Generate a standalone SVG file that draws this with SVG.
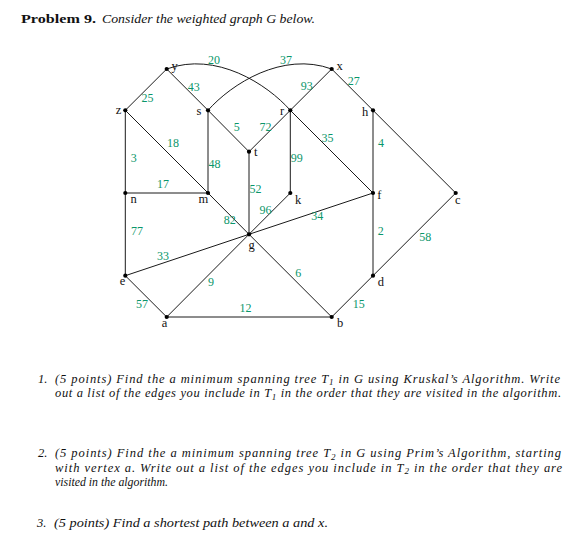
<svg xmlns="http://www.w3.org/2000/svg" width="582" height="553" viewBox="0 0 582 553">
<style>
.e{stroke:#1a1a1a;stroke-width:1;fill:none}
.w{font-family:"Liberation Serif","DejaVu Serif",serif;font-size:12px;fill:#0a966a;text-anchor:middle}
.n{font-family:"Liberation Serif","DejaVu Serif",serif;font-size:12.5px;fill:#111}
.q{font-family:"Liberation Serif","DejaVu Serif",serif;font-style:italic;font-size:12.5px;fill:#111}
.b{font-family:"Liberation Serif","DejaVu Serif",serif;font-weight:bold;font-size:13px;fill:#111}
.d{fill:#000}
</style>
<rect width="582" height="553" fill="#fff"/>
<text class="b" x="21" y="23" textLength="75" lengthAdjust="spacingAndGlyphs">Problem 9.</text>
<text class="q" x="102" y="23" textLength="213" lengthAdjust="spacingAndGlyphs">Consider the weighted graph G below.</text>
<g id="edges">
<line class="e" x1="125.3" y1="110.3" x2="166.7" y2="69"/>
<line class="e" x1="166.7" y1="69" x2="208" y2="110.3"/>
<line class="e" x1="208" y1="110.3" x2="249" y2="151.7"/>
<line class="e" x1="249" y1="151.7" x2="290.3" y2="110.3"/>
<line class="e" x1="290.3" y1="110.3" x2="331.7" y2="69"/>
<line class="e" x1="331.7" y1="69" x2="373" y2="110.3"/>
<line class="e" x1="373" y1="110.3" x2="455.7" y2="193"/>
<line class="e" x1="125.3" y1="110.3" x2="125.3" y2="193"/>
<line class="e" x1="125.3" y1="110.3" x2="208" y2="193"/>
<line class="e" x1="208" y1="193" x2="249" y2="234.3" stroke-width="1.5"/>
<line class="e" x1="208" y1="110.3" x2="208" y2="193"/>
<line class="e" x1="249" y1="151.7" x2="249" y2="234.3"/>
<line class="e" x1="290.3" y1="110.3" x2="290.3" y2="193"/>
<line class="e" x1="290.3" y1="110.3" x2="373" y2="193"/>
<line class="e" x1="373" y1="110.3" x2="373" y2="193"/>
<line class="e" x1="125.3" y1="193" x2="208" y2="193"/>
<line class="e" x1="125.3" y1="193" x2="125.3" y2="275.7"/>
<line class="e" x1="290.3" y1="193" x2="249" y2="234.3"/>
<line class="e" x1="249" y1="234.3" x2="373" y2="193"/>
<line class="e" x1="125.3" y1="275.7" x2="249" y2="234.3"/>
<line class="e" x1="125.3" y1="275.7" x2="166.7" y2="317"/>
<line class="e" x1="166.7" y1="317" x2="249" y2="234.3"/>
<line class="e" x1="166.7" y1="317" x2="331.7" y2="317"/>
<line class="e" x1="249" y1="234.3" x2="331.7" y2="317"/>
<line class="e" x1="331.7" y1="317" x2="373" y2="275.7"/>
<line class="e" x1="373" y1="275.7" x2="373" y2="193"/>
<line class="e" x1="373" y1="275.7" x2="455.7" y2="193"/>
<path class="e" d="M166.7,69 C216,51 267,84 290.3,110.3"/>
<path class="e" d="M331.7,69 C282.4,51 231.4,84 208,110.3"/>
</g>
<g id="edge-labels">
<text class="w" x="147.5" y="101.5">25</text>
<text class="w" x="193.7" y="90.5">43</text>
<text class="w" x="214" y="64">20</text>
<text class="w" x="286" y="64">37</text>
<text class="w" x="306.7" y="90">93</text>
<text class="w" x="353.7" y="85">27</text>
<text class="w" x="173" y="147">18</text>
<text class="w" x="236.7" y="130.7">5</text>
<text class="w" x="265.5" y="131">72</text>
<text class="w" x="133.7" y="161.5">3</text>
<text class="w" x="214.5" y="168">48</text>
<text class="w" x="296.7" y="161.5">99</text>
<text class="w" x="327.5" y="142">35</text>
<text class="w" x="381" y="147">4</text>
<text class="w" x="163" y="188">17</text>
<text class="w" x="255.5" y="193">52</text>
<text class="w" x="265.5" y="214">96</text>
<text class="w" x="229.7" y="224">82</text>
<text class="w" x="317.3" y="219.7">34</text>
<text class="w" x="137" y="235">77</text>
<text class="w" x="163" y="260">33</text>
<text class="w" x="380.7" y="235">2</text>
<text class="w" x="425.3" y="240.7">58</text>
<text class="w" x="211" y="286">9</text>
<text class="w" x="298.3" y="276.5">6</text>
<text class="w" x="142" y="307.5">57</text>
<text class="w" x="245.5" y="311.5">12</text>
<text class="w" x="358.7" y="307.5">15</text>
</g>
<g id="node-y"><circle class="d" cx="166.7" cy="69" r="2.1"/><text class="n" x="171.5" y="69.5">y</text></g>
<g id="node-x"><circle class="d" cx="331.7" cy="69" r="2.1"/><text class="n" x="336.5" y="70">x</text></g>
<g id="node-z"><circle class="d" cx="125.3" cy="110.3" r="2.1"/><text class="n" x="115.8" y="114">z</text></g>
<g id="node-s"><circle class="d" cx="208" cy="110.3" r="2.1"/><text class="n" x="196.5" y="115">s</text></g>
<g id="node-r"><circle class="d" cx="290.3" cy="110.3" r="2.1"/><text class="n" x="280" y="115">r</text></g>
<g id="node-h"><circle class="d" cx="373" cy="110.3" r="2.1"/><text class="n" x="362" y="116">h</text></g>
<g id="node-t"><circle class="d" cx="249" cy="151.7" r="2.1"/><text class="n" x="254" y="156">t</text></g>
<g id="node-n"><circle class="d" cx="125.3" cy="193" r="2.1"/><text class="n" x="130.5" y="203">n</text></g>
<g id="node-m"><circle class="d" cx="208" cy="193" r="2.1"/><text class="n" x="198.5" y="203">m</text></g>
<g id="node-k"><circle class="d" cx="290.3" cy="193" r="2.1"/><text class="n" x="295" y="204">k</text></g>
<g id="node-f"><circle class="d" cx="373" cy="193" r="2.1"/><text class="n" x="377.3" y="199">f</text></g>
<g id="node-c"><circle class="d" cx="455.7" cy="193" r="2.1"/><text class="n" x="455" y="204">c</text></g>
<g id="node-g"><circle class="d" cx="249" cy="234.3" r="2.1"/><text class="n" x="248.5" y="248.5">g</text></g>
<g id="node-e"><circle class="d" cx="125.3" cy="275.7" r="2.1"/><text class="n" x="119.8" y="285">e</text></g>
<g id="node-d"><circle class="d" cx="373" cy="275.7" r="2.1"/><text class="n" x="377.7" y="286">d</text></g>
<g id="node-a"><circle class="d" cx="166.7" cy="317" r="2.1"/><text class="n" x="161.7" y="326.5">a</text></g>
<g id="node-b"><circle class="d" cx="331.7" cy="317" r="2.1"/><text class="n" x="337" y="326.5">b</text></g>
<g id="questions">
<text class="q" x="38" y="382.5">1.</text>
<text class="q" x="55" y="382.5" textLength="505" lengthAdjust="spacing">(5 points) Find the a minimum spanning tree T<tspan dy="2.5" font-size="9">1</tspan><tspan dy="-2.5"> in G using Kruskal’s Algorithm. Write</tspan></text>
<text class="q" x="55" y="397" textLength="506" lengthAdjust="spacing">out a list of the edges you include in T<tspan dy="2.5" font-size="9">1</tspan><tspan dy="-2.5"> in the order that they are visited in the algorithm.</tspan></text>
<text class="q" x="38" y="457.3">2.</text>
<text class="q" x="55" y="457.3" textLength="506" lengthAdjust="spacing">(5 points) Find the a minimum spanning tree T<tspan dy="2.5" font-size="9">2</tspan><tspan dy="-2.5"> in G using Prim’s Algorithm, starting</tspan></text>
<text class="q" x="55" y="471.7" textLength="507" lengthAdjust="spacing">with vertex a. Write out a list of the edges you include in T<tspan dy="2.5" font-size="9">2</tspan><tspan dy="-2.5"> in the order that they are</tspan></text>
<text class="q" x="55" y="486" textLength="113" lengthAdjust="spacingAndGlyphs">visited in the algorithm.</text>
<text class="q" x="37" y="527">3.</text>
<text class="q" x="54" y="527" textLength="274" lengthAdjust="spacingAndGlyphs">(5 points) Find a shortest path between a and x.</text>
</g>
</svg>
